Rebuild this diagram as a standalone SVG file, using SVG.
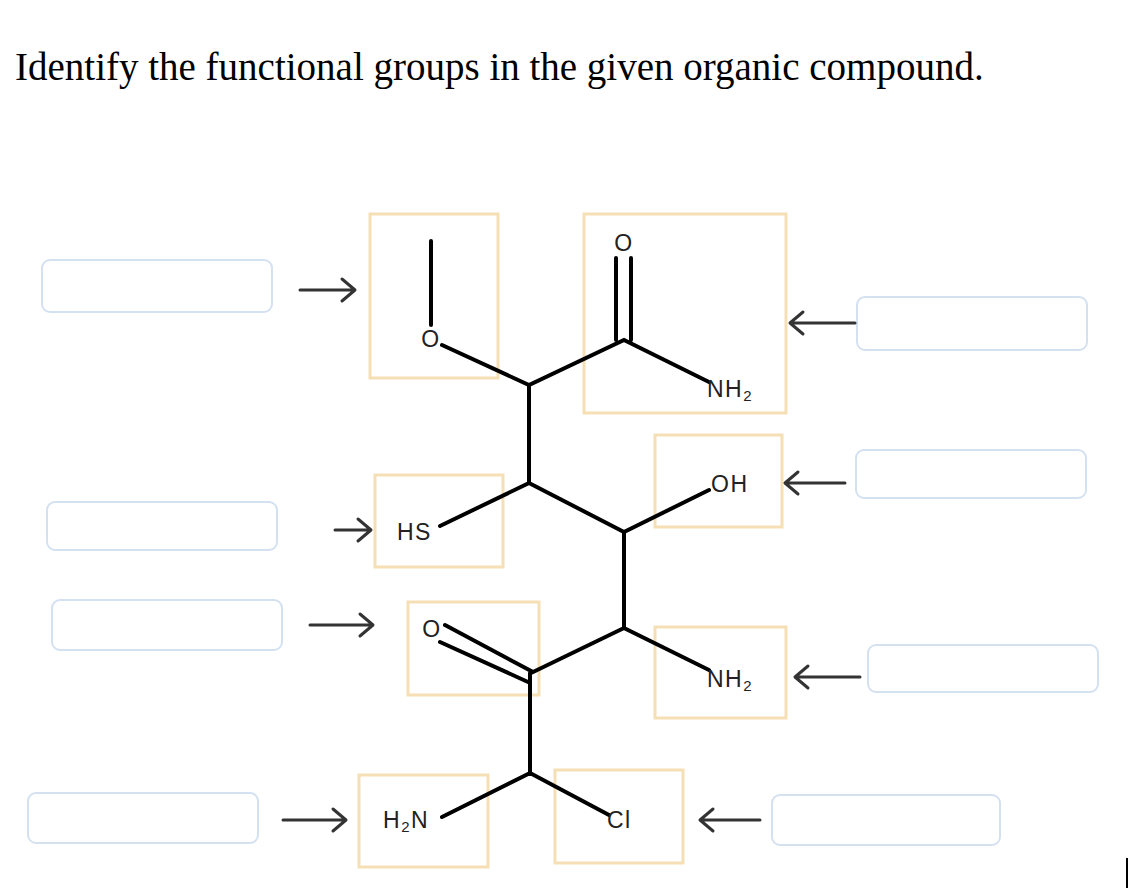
<svg xmlns="http://www.w3.org/2000/svg" width="1148" height="892" viewBox="0 0 1148 892">
<style>
.t{font-family:"Liberation Serif",serif;font-size:39px;fill:#000}
.a{font-family:"Liberation Sans",Arial,sans-serif;font-size:23px;letter-spacing:1.5px;fill:#222}
.s{font-size:15px}
.hl{fill:none;stroke:#f6dfb4;stroke-width:3}
.in{fill:#fff;stroke:#d4e1f1;stroke-width:2}
.b{stroke:#000;stroke-width:4;fill:none;stroke-linecap:round}
.ar{stroke:#333;stroke-width:3;fill:none;stroke-linecap:round;stroke-linejoin:round}
</style>
<rect width="1148" height="892" fill="#fff"/>
<text class="t" x="15" y="80">Identify the functional groups in the given organic compound.</text>
<g id="inputs">
<rect id="in1" class="in" x="42" y="260" width="230" height="52" rx="8"/>
<rect id="in2" class="in" x="47" y="502" width="230" height="48" rx="8"/>
<rect id="in3" class="in" x="52" y="600" width="230" height="50" rx="8"/>
<rect id="in4" class="in" x="28" y="793" width="230" height="50" rx="8"/>
<rect id="in5" class="in" x="857" y="297" width="230" height="53" rx="8"/>
<rect id="in6" class="in" x="856" y="450" width="230" height="48" rx="8"/>
<rect id="in7" class="in" x="868" y="645" width="230" height="47" rx="8"/>
<rect id="in8" class="in" x="772" y="795" width="228" height="50" rx="8"/>
</g>
<g id="highlights">
<rect id="h1" class="hl" x="370" y="214" width="128" height="164"/>
<rect id="h2" class="hl" x="584" y="214" width="202" height="199"/>
<rect id="h3" class="hl" x="375" y="475" width="128" height="92"/>
<rect id="h4" class="hl" x="655" y="435" width="127" height="92"/>
<rect id="h5" class="hl" x="408" y="602" width="131" height="93"/>
<rect id="h6" class="hl" x="655" y="627" width="131" height="91"/>
<rect id="h7" class="hl" x="359" y="775" width="129" height="92"/>
<rect id="h8" class="hl" x="555" y="770" width="128" height="93"/>
</g>
<g id="molecule">
<path class="b" d="M431 241V325M442 345L529 385L624 340L709 382M616 258V340M631 258V340M529 385V483L440 526M529 483L624 532L709 490M624 532V628L709 670M624 628L531 673M445 625L533 672M440 642L528 682M530 673V773L442 817M530 773L609 815"/>
<text class="a" x="431" y="347" text-anchor="middle">O</text>
<text class="a" x="624" y="251" text-anchor="middle">O</text>
<text class="a" x="707" y="397">NH<tspan class="s" dy="4">2</tspan></text>
<text class="a" x="397" y="540">HS</text>
<text class="a" x="711" y="492">OH</text>
<text class="a" x="432" y="637" text-anchor="middle">O</text>
<text class="a" x="707" y="687">NH<tspan class="s" dy="4">2</tspan></text>
<text class="a" x="383" y="828">H<tspan class="s" dy="4">2</tspan><tspan dy="-4">N</tspan></text>
<text class="a" x="607" y="828">Cl</text>
</g>
<g id="connectors">
<path class="ar" d="M300 290H354M342 279L355 290L342 301"/>
<path class="ar" d="M335 530H370M358 519L371 530L358 541"/>
<path class="ar" d="M310 625H372M360 614L373 625L360 636"/>
<path class="ar" d="M283 820H345M333 809L346 820L333 831"/>
<path class="ar" d="M855 323H791M803 312L790 323L803 334"/>
<path class="ar" d="M845 483H786M798 472L785 483L798 494"/>
<path class="ar" d="M860 677H796M808 666L795 677L808 688"/>
<path class="ar" d="M760 820H701M713 809L700 820L713 831"/>
</g>
<line x1="1127" y1="858" x2="1127" y2="888" stroke="#000" stroke-width="2"/>
</svg>
